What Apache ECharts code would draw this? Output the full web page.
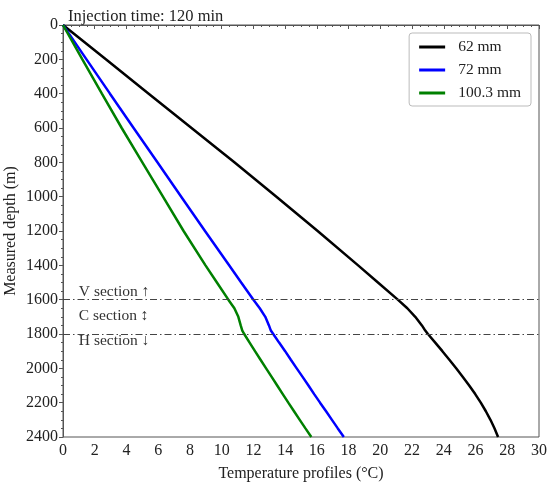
<!DOCTYPE html>
<html>
<head>
<meta charset="utf-8">
<script src="https://cdn.jsdelivr.net/npm/echarts@6/dist/echarts.min.js"></script>
<style>html,body{margin:0;padding:0;background:#fff;}#c{width:550px;height:484px;}</style>
</head>
<body>
<div id="c"></div>
<script>
var depths = [0,200,400,600,800,1000,1200,1400,1500,1600,1650,1700,1750,1780,1800,1850,1900,1950,2000,2050,2100,2150,2200,2250,2300,2350,2400];
var t62 = [0,2.7,5.4,8.1,10.8,13.45,16.05,18.6,19.85,21.1,21.7,22.2,22.62,22.83,23.0,23.46,23.91,24.35,24.78,25.2,25.6,25.98,26.33,26.65,26.94,27.2,27.42];
var t72 = [0,1.48,2.96,4.45,5.95,7.45,8.95,10.47,11.23,12.0,12.4,12.75,12.98,13.1,13.25,13.62,14.0,14.36,14.73,15.1,15.47,15.83,16.2,16.58,16.95,17.32,17.7];
var t100 = [0,1.22,2.45,3.7,5.0,6.3,7.6,8.98,9.7,10.42,10.8,11.05,11.2,11.3,11.42,11.76,12.1,12.45,12.8,13.15,13.5,13.85,14.2,14.56,14.92,15.28,15.65];
var seriesNames = ['62 mm','72 mm','100.3 mm'];
var sectionDepths = [1600,1800];
var sectionLabels = ['V section \u2191','C section \u2195','H section \u2193'];
var sectionLabelDepths = [1555,1697,1842];
var titleText = 'Injection time: 120 min';

function pairs(t){ return t.map(function(v,i){ return [v, depths[i]]; }); }
var font = 'Liberation Serif';
var chart = echarts.init(document.getElementById('c'));
chart.setOption({
  animation:false,
  textStyle:{fontFamily:font},
  title:{text:titleText,left:63,top:3,textStyle:{fontFamily:font,fontSize:16.5,fontWeight:'normal',color:'#222'}},
  grid:{left:63,right:11,top:25,bottom:47,show:true,borderColor:'#555',borderWidth:1,containLabel:false,outerBoundsMode:'none'},
  legend:{
    right:19,top:33,orient:'vertical',
    backgroundColor:'#fff',borderColor:'#bbb',borderWidth:1,borderRadius:3,
    padding:[6,10,5,10],itemGap:7,itemWidth:26,itemHeight:3,icon:'rect',
    textStyle:{fontFamily:font,fontSize:15.5,color:'#222',padding:[0,0,0,8]},
    data:seriesNames
  },
  xAxis:{
    type:'value',min:0,max:30,interval:2,
    name:'Temperature profiles (\u00b0C)',nameLocation:'middle',nameGap:29,nameMoveOverlap:false,
    nameTextStyle:{fontFamily:font,fontSize:16,color:'#222'},
    axisLine:{lineStyle:{color:'#555'}},
    axisTick:{length:4,lineStyle:{color:'#555'}},
    minorTick:{show:true,splitNumber:4,length:2,lineStyle:{color:'#555'}},
    splitLine:{show:false},
    axisLabel:{fontFamily:font,fontSize:16,color:'#222',margin:6,formatter:function(v){return String(v);}}
  },
  yAxis:{
    type:'value',min:0,max:2400,interval:200,inverse:true,
    name:'Measured depth (m)',nameLocation:'middle',nameGap:44,nameRotate:90,nameMoveOverlap:false,
    nameTextStyle:{fontFamily:font,fontSize:16,color:'#222'},
    axisLine:{show:true,lineStyle:{color:'#555'}},
    axisTick:{show:true,length:4,lineStyle:{color:'#555'}},
    minorTick:{show:true,splitNumber:4,length:2,lineStyle:{color:'#555'}},
    splitLine:{show:false},
    axisLabel:{fontFamily:font,fontSize:16,color:'#222',margin:5,formatter:function(v){return String(v);}}
  },
  series:[
    {name:seriesNames[0],type:'line',data:pairs(t62),symbol:'none',showSymbol:false,
     lineStyle:{color:'#000',width:2.5},itemStyle:{color:'#000'},z:3,
     markLine:{silent:true,symbol:'none',label:{show:false},
       lineStyle:{color:'#444',width:1,type:[7,3,1.5,3]},
       data:sectionDepths.map(function(d){return {yAxis:d};})},
     markPoint:{silent:true,symbol:'rect',symbolSize:0,
       label:{show:true,position:'right',distance:0,fontFamily:font,fontSize:15.5,color:'#333',
         formatter:function(p){return p.name;}},
       data:sectionLabels.map(function(s,i){return {name:s,coord:[1.0,sectionLabelDepths[i]]};})}
    },
    {name:seriesNames[1],type:'line',data:pairs(t72),symbol:'none',showSymbol:false,
     lineStyle:{color:'#0000ff',width:2.5},itemStyle:{color:'#0000ff'},z:3},
    {name:seriesNames[2],type:'line',data:pairs(t100),symbol:'none',showSymbol:false,
     lineStyle:{color:'#008000',width:2.5},itemStyle:{color:'#008000'},z:3}
  ]
});
</script>
</body>
</html>
